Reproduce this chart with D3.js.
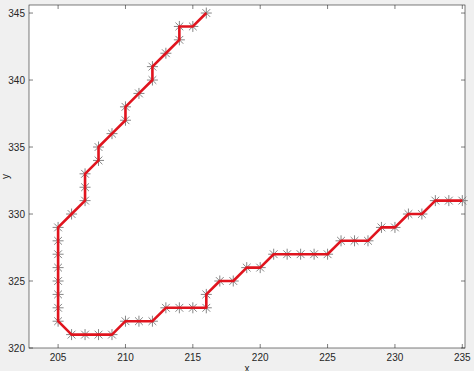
<!DOCTYPE html>
<html><head><meta charset="utf-8">
<script src="https://cdn.jsdelivr.net/npm/d3@7"></script>
<style>html,body{margin:0;padding:0;background:#f0f0f0;}svg{display:block;}</style>
</head><body>
<svg id="c" width="474" height="371"></svg>
<script>
const xs = [216,215,214,214,213,212,212,211,210,210,209,208,208,207,207,207,206,205,205,205,205,205,205,205,205,206,207,208,209,210,211,212,213,214,215,216,216,217,218,219,220,221,222,223,224,225,226,227,228,229,230,231,232,233,234,235];
const ys = [345,344,344,343,342,341,340,339,338,337,336,335,334,333,332,331,330,329,328,327,326,325,324,323,322,321,321,321,321,322,322,322,323,323,323,323,324,325,325,326,326,327,327,327,327,327,328,328,328,329,329,330,330,331,331,331];
const xTicks = [205,210,215,220,225,230,235];
const yTicks = [320,325,330,335,340,345];

const svg = d3.select("#c");
const L=29, R=465, T=5, B=348;
const x = d3.scaleLinear().domain([202.84,235.2]).range([L,R]);
const y = d3.scaleLinear().domain([320,345.6]).range([B,T]);
svg.append("rect").attr("x",L).attr("y",T).attr("width",R-L).attr("height",B-T).attr("fill","#fff");

const ax = "#262626";
const font = "Arial, 'Liberation Sans', sans-serif";
const tl = 4;
const g = svg.append("g").attr("font-family",font).attr("font-size",10).attr("fill",ax);
xTicks.forEach(t=>{
  g.append("line").attr("x1",x(t)).attr("x2",x(t)).attr("y1",B).attr("y2",B-tl).attr("stroke",ax).attr("stroke-width",0.6);
  g.append("line").attr("x1",x(t)).attr("x2",x(t)).attr("y1",T).attr("y2",T+tl).attr("stroke",ax).attr("stroke-width",0.6);
  g.append("text").attr("x",x(t)).attr("y",B+13).attr("text-anchor","middle").text(t);
});
yTicks.forEach(t=>{
  g.append("line").attr("x1",L).attr("x2",L+tl).attr("y1",y(t)).attr("y2",y(t)).attr("stroke",ax).attr("stroke-width",0.6);
  g.append("line").attr("x1",R).attr("x2",R-tl).attr("y1",y(t)).attr("y2",y(t)).attr("stroke",ax).attr("stroke-width",0.6);
  g.append("text").attr("x",L-4).attr("y",y(t)+3.5).attr("text-anchor","end").text(t);
});
svg.append("rect").attr("x",L).attr("y",T).attr("width",R-L).attr("height",B-T).attr("fill","none").attr("stroke",ax).attr("stroke-width",0.6);
g.append("text").attr("transform",`translate(9,${(T+B)/2}) rotate(-90)`).attr("text-anchor","middle").text("y");
g.append("text").attr("x",(L+R)/2).attr("y",B+24).attr("text-anchor","middle").text("x");

const pts = xs.map((v,i)=>[v,ys[i]]);
// markers
const m = svg.append("g").attr("stroke","#777").attr("stroke-width",0.9);
const r = 5.5, d = r*0.707;
pts.forEach(([a,b])=>{
  const cx=x(a), cy=y(b);
  m.append("path").attr("d",`M${cx-r},${cy}H${cx+r}M${cx},${cy-r}V${cy+r}M${cx-d},${cy-d}L${cx+d},${cy+d}M${cx-d},${cy+d}L${cx+d},${cy-d}`);
});
svg.append("path").datum(pts).attr("fill","none").attr("stroke","#e0141e").attr("stroke-width",2.6).attr("stroke-linejoin","round")
  .attr("d",d3.line().x(p=>x(p[0])).y(p=>y(p[1])));
</script>
</body></html>
